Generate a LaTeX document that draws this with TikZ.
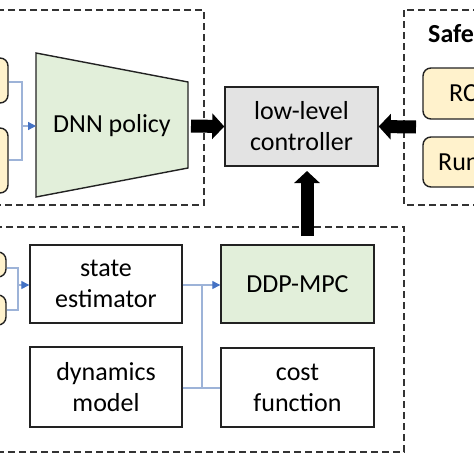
\documentclass[tikz,border=0pt]{standalone}
\usepackage{fontspec}
\setmainfont{Carlito}
\usetikzlibrary{arrows.meta}
\definecolor{ylw}{HTML}{FFF2CC}
\definecolor{grn}{HTML}{E2EFDA}
\definecolor{gry}{HTML}{E3E3E3}
\definecolor{bln}{HTML}{9DB3D8}
\definecolor{bla}{HTML}{4472C4}
\definecolor{edge}{HTML}{222222}
\tikzset{
  x=1pt, y=-1pt,
  txt/.style={font=\fontsize{26}{31}\selectfont, align=center, text=black},
  plain/.style={draw=edge, line width=1.4pt},
  ybox/.style={draw=edge, line width=1.4pt, fill=ylw, rounded corners=8pt},
  dbox/.style={draw=black!80, line width=1.4pt, dash pattern=on 7pt off 4pt},
  bline/.style={draw=bln, line width=1.3pt},
  barrow/.style={bline, -{Triangle[length=8pt,width=8pt,fill=bla,color=bla]}},
  thick arrow/.style={line width=13pt, -{Triangle[length=12pt,width=25pt]}},
}
\begin{document}
\begin{tikzpicture}
\useasboundingbox (0,0) rectangle (474,474);
\clip (0,0) rectangle (474,474);
\fill[white] (0,0) rectangle (474,474);

% dashed group boxes
\draw[dbox] (-20,10) rectangle (204,205);
\draw[dbox] (404,10) rectangle (500,205);
\draw[dbox] (-20,227) rectangle (404,452);

% top-left inputs
\node[ybox, minimum width=40pt, minimum height=45pt] (in1) at (-12,80.5) {};
\node[ybox, minimum width=40pt, minimum height=65pt] (in2) at (-12,160.5) {};
\coordinate (j1) at (22,126);

% DNN policy trapezoid
\coordinate (d1) at (36,53);
\coordinate (d2) at (188,82);
\coordinate (d3) at (188,168);
\coordinate (d4) at (36,197);
\draw[plain, fill=grn] (d1) -- (d2) -- (d3) -- (d4) -- cycle;
\node[txt] (dnn) at (112,126) {DNN policy};
\coordinate (dnnin) at (36,126);
\coordinate (dnnout) at (191,126);

\draw[bline] (in1.east |- 0,82) -| (j1);
\draw[bline] (in2.east |- 0,160) -| (j1);
\draw[barrow] (j1) -- (dnnin);

% low-level controller
\node[plain, fill=gry, minimum width=153pt, minimum height=79pt, txt] (llc) at (301.5,126.5) {low-level\\controller};
\draw[thick arrow] (dnnout) -- (llc.west);

% safety group
\node[font=\fontsize{26}{31}\selectfont\bfseries, anchor=west, inner sep=0pt] (safe) at (428,34) {Safe};
\node[ybox, minimum width=90pt, minimum height=51pt] (rc) at (468,93.5) {};
\node[txt, anchor=west, inner sep=0pt] (rct) at (449,93.5) {RC};
\node[ybox, minimum width=90pt, minimum height=50pt] (run) at (468,162) {};
\node[txt, anchor=west, inner sep=0pt] (runt) at (438,162) {Run};
\coordinate (sfout) at (416,127);
\draw[thick arrow] (sfout) -- (llc.east);

% bottom group
\node[ybox, minimum width=30pt, minimum height=25pt] (in3) at (-9,264.5) {};
\node[ybox, minimum width=30pt, minimum height=30pt] (in4) at (-9,310) {};
\coordinate (j2) at (18,285);

\node[plain, minimum width=152pt, minimum height=78pt, txt] (se) at (106,284) {state\\estimator};
\node[plain, minimum width=152pt, minimum height=80pt, txt] (dm) at (106,387) {dynamics\\model};
\node[plain, fill=grn, minimum width=153pt, minimum height=78pt, txt] (mpc) at (297.5,284) {DDP-MPC};
\node[plain, minimum width=153pt, minimum height=79pt, txt] (cf) at (297.5,387.5) {cost\\function};

\draw[bline] (in3.east |- 0,268) -| (j2);
\draw[bline] (in4.east |- 0,310) -| (j2);
\draw[barrow] (j2) -- (se.west |- j2);

\coordinate (j3) at (202,285);
\draw[barrow] (se.east |- 0,285) -- (mpc.west |- 0,285);
\draw[bline] (dm.east |- 0,388) -- (cf.west |- 0,388);
\draw[bline] (j3) -- (202,388);

\coordinate (mpcout) at (307,236);
\draw[thick arrow] (mpcout) -- (307,171);
\end{tikzpicture}
\end{document}
